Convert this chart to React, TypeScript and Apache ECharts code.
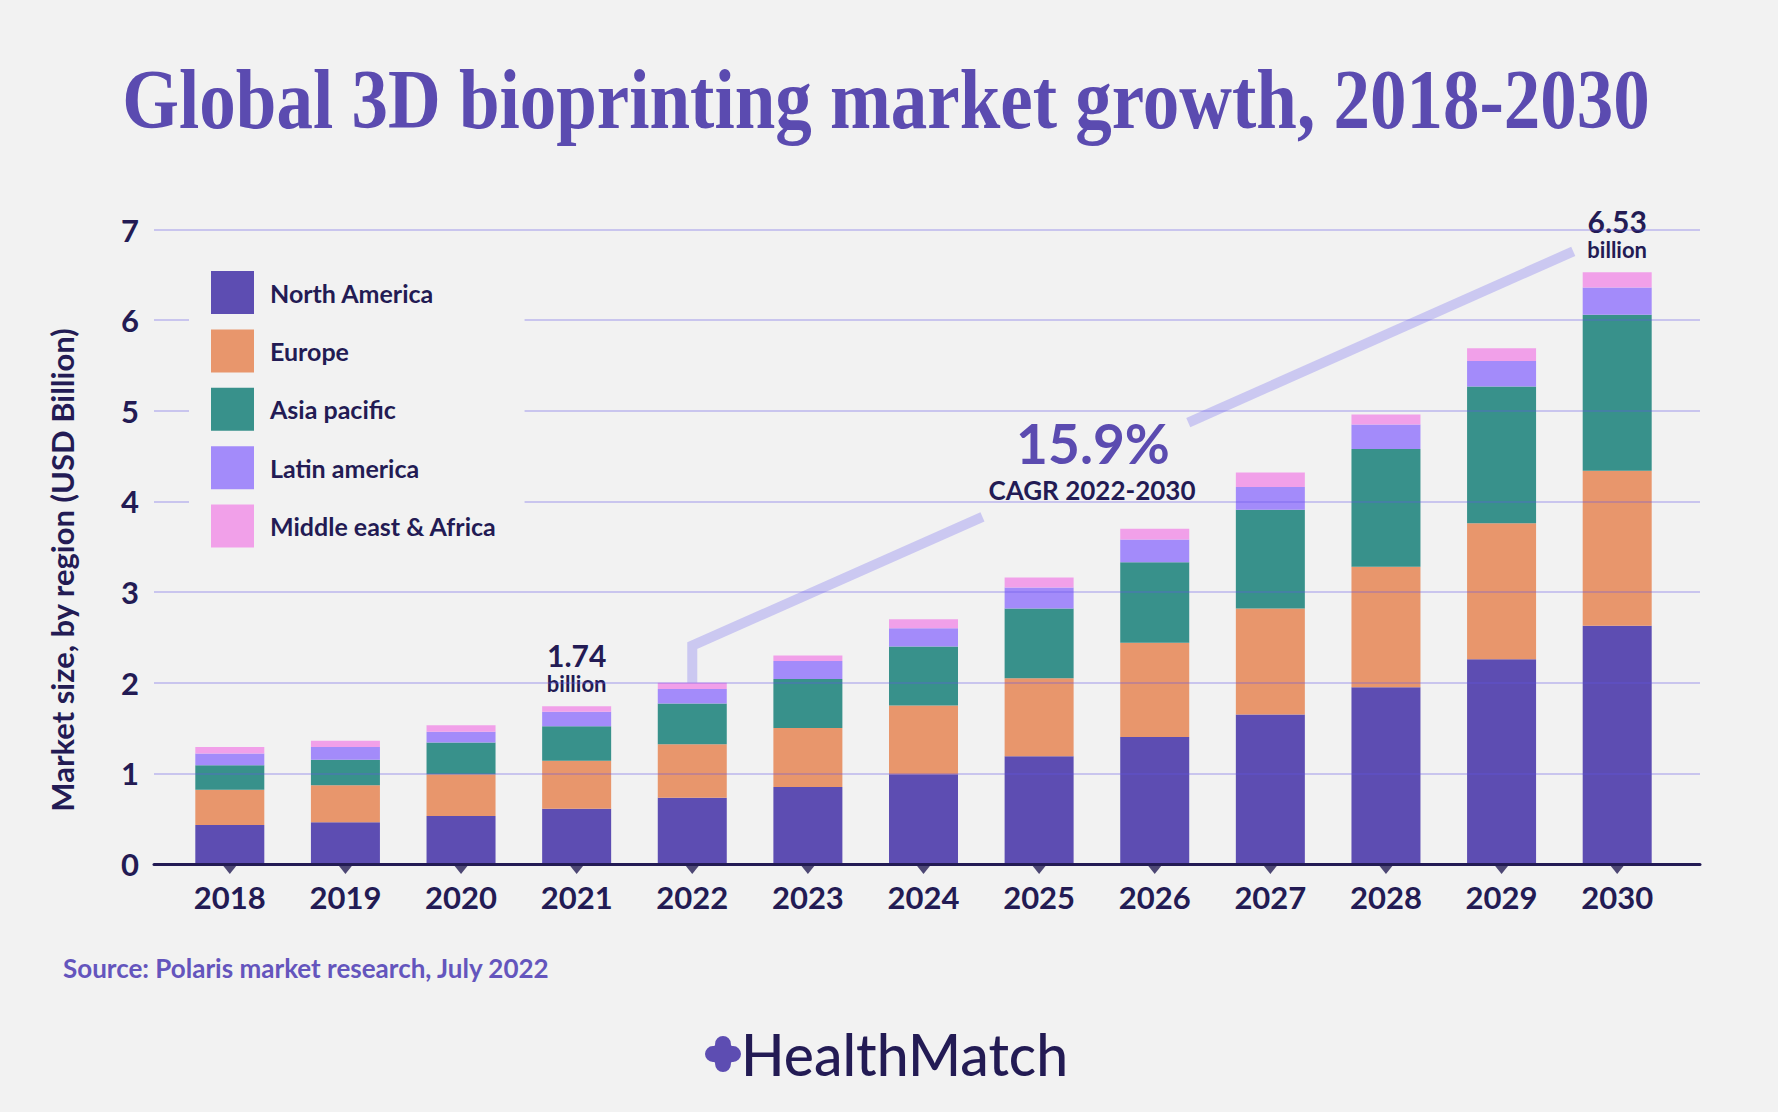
import React, { useEffect, useRef } from "react";
import * as echarts from "echarts";

const years = ["2018", "2019", "2020", "2021", "2022", "2023", "2024", "2025", "2026", "2027", "2028", "2029", "2030"];
const northAmerica = [0.43, 0.46, 0.53, 0.61, 0.73, 0.85, 0.99, 1.19, 1.4, 1.65, 1.95, 2.26, 2.63];
const europe = [0.39, 0.41, 0.46, 0.53, 0.59, 0.65, 0.76, 0.86, 1.04, 1.17, 1.33, 1.5, 1.71];
const asiaPacific = [0.27, 0.28, 0.35, 0.38, 0.45, 0.54, 0.65, 0.77, 0.89, 1.09, 1.3, 1.51, 1.72];
const latinAmerica = [0.13, 0.14, 0.12, 0.16, 0.16, 0.2, 0.2, 0.23, 0.25, 0.25, 0.27, 0.28, 0.3];
const middleEastAfrica = [0.07, 0.07, 0.07, 0.06, 0.07, 0.06, 0.1, 0.11, 0.12, 0.16, 0.11, 0.14, 0.17];

const seriesNames = ["North America", "Europe", "Asia pacific", "Latin america", "Middle east & Africa"];
const seriesColors = ["#5d4db2", "#e8966c", "#38918b", "#a38bfa", "#f1a0e9"];

const annotatedYears = ["2021", "2030"];
const annotatedTotals = ["1.74", "6.53"];

const yTicks = [0, 1, 2, 3, 4, 5, 6, 7];

// CAGR trend guide (category index, value)
const cagrLineA = [[4, 2.0], [4, 2.41], [6.51, 3.83]];
const cagrLineB = [[8.29, 4.87], [11.62, 6.76]];
const cagrValue = "15.9%";
const cagrLabel = "CAGR 2022-2030";

const NAVY = "#231b54";
const PURPLE = "#5b4bb0";

echarts.graphic.registerShape(
  "hmLogo",
  echarts.graphic.extendPath(
    "M28,22 A22,22 0 0 1 72,22 L72,24 Q72,28 76,28 L78,28 A22,22 0 0 1 78,72 L76,72 Q72,72 72,76 L72,78 A22,22 0 0 1 28,78 L28,76 Q28,72 24,72 L22,72 A22,22 0 0 1 22,28 L24,28 Q28,28 28,24 Z",
    {}
  )
);

export default function App() {
  const ref = useRef<HTMLDivElement>(null);
  useEffect(() => {
    if (!ref.current) return;
    const chart = echarts.init(ref.current, undefined, { renderer: "svg" });
    const values = [northAmerica, europe, asiaPacific, latinAmerica, middleEastAfrica];
    const barSeries = values.map((arr, k) => ({
      name: seriesNames[k],
      type: "bar",
      stack: "total",
      xAxisIndex: 1,
      yAxisIndex: 1,
      barWidth: 69,
      itemStyle: { color: seriesColors[k] },
      z: 2,
      data: arr,
      label:
        k === 4
          ? {
              show: true,
              position: "top",
              distance: 10,
              formatter: (p: any) => {
                const idx = annotatedYears.indexOf(p.name);
                return idx >= 0 ? `{v|${annotatedTotals[idx]}}\n{b|billion}` : "";
              },
              rich: {
                v: { fontFamily: "Lato", fontWeight: "bold", fontSize: 30, lineHeight: 30, color: NAVY, align: "center" },
                b: { fontFamily: "Lato", fontWeight: "bold", fontSize: 22, lineHeight: 26, color: NAVY, align: "center" },
              },
            }
          : { show: false },
    }));

    const option: any = {
      animation: false,
      backgroundColor: "#f2f2f2",
      textStyle: { fontFamily: "Lato" },
      grid: [
        { left: 154, right: 78, top: 229.6, bottom: 248 },
        { left: 172, right: 103, top: 229.6, bottom: 248 },
      ],
      xAxis: [
        {
          type: "value",
          gridIndex: 0,
          min: 0,
          max: 1,
          z: 12,
          axisLine: { show: true, lineStyle: { color: NAVY, width: 3 } },
          axisTick: { show: false },
          axisLabel: { show: false },
          splitLine: { show: false },
        },
        {
          type: "category",
          gridIndex: 1,
          data: years,
          axisLine: { show: false },
          axisTick: { show: false },
          axisLabel: { color: NAVY, fontFamily: "Lato", fontWeight: "bold", fontSize: 31, margin: 17 },
        },
        {
          type: "value",
          gridIndex: 1,
          min: -0.5,
          max: 12.5,
          show: false,
        },
      ],
      yAxis: [
        {
          type: "value",
          gridIndex: 0,
          min: yTicks[0],
          max: yTicks[yTicks.length - 1],
          interval: 1,
          z: 10,
          axisLine: { show: false },
          axisTick: { show: false },
          axisLabel: { color: NAVY, fontFamily: "Lato", fontWeight: "bold", fontSize: 31, margin: 15 },
          splitLine: { show: true, lineStyle: { color: "rgba(100,85,230,0.38)", width: 1.5 } },
        },
        {
          type: "value",
          gridIndex: 1,
          min: 0,
          max: 7,
          show: false,
        },
      ],
      legend: {
        orient: "vertical",
        left: 189,
        top: 259,
        padding: [12, 28, 12, 22],
        backgroundColor: "#f2f2f2",
        z: 20,
        icon: "rect",
        itemWidth: 43,
        itemHeight: 43,
        itemGap: 15.4,
        data: seriesNames,
        textStyle: { color: NAVY, fontFamily: "Lato", fontWeight: "bold", fontSize: 25, padding: [0, 0, 0, 11] },
      },
      series: [
        {
          type: "line",
          xAxisIndex: 2,
          yAxisIndex: 1,
          data: cagrLineA,
          symbol: "none",
          z: 1,
          lineStyle: { color: "#cbc8f1", width: 10, cap: "butt", join: "miter" },
          silent: true,
        },
        {
          type: "line",
          xAxisIndex: 2,
          yAxisIndex: 1,
          data: cagrLineB,
          symbol: "none",
          z: 1,
          lineStyle: { color: "#cbc8f1", width: 10, cap: "butt" },
          silent: true,
        },
        ...barSeries,
        {
          type: "scatter",
          xAxisIndex: 1,
          yAxisIndex: 1,
          data: years.map(() => 0),
          symbol: "triangle",
          symbolRotate: 180,
          symbolSize: [16, 10],
          symbolOffset: [0, 5],
          clip: false,
          itemStyle: { color: NAVY },
          z: 13,
          silent: true,
        },
      ],
      graphic: [
        {
          type: "text",
          x: 886,
          y: 100,
          scaleY: 1.15,
          z: 30,
          style: {
            text: "Global 3D bioprinting market growth, 2018-2030",
            fill: PURPLE,
            font: "bold 73px 'Liberation Serif', serif",
            align: "center",
            verticalAlign: "middle",
          },
        },
        {
          type: "text",
          x: 62,
          y: 570,
          rotation: Math.PI / 2,
          z: 30,
          style: {
            text: "Market size, by region (USD Billion)",
            fill: NAVY,
            font: "bold 31px Lato",
            align: "center",
            verticalAlign: "middle",
          },
        },
        {
          type: "text",
          x: 1093,
          y: 443,
          z: 5,
          style: { text: cagrValue, fill: PURPLE, font: "bold 55px Lato", align: "center", verticalAlign: "middle" },
        },
        {
          type: "text",
          x: 1092,
          y: 490,
          z: 5,
          style: { text: cagrLabel, fill: NAVY, font: "bold 26px Lato", align: "center", verticalAlign: "middle" },
        },
        {
          type: "text",
          x: 63,
          y: 968,
          z: 30,
          style: {
            text: "Source: Polaris market research, July 2022",
            fill: "#6455bd",
            font: "bold 26px Lato",
            align: "left",
            verticalAlign: "middle",
          },
        },
        {
          type: "hmLogo",
          x: 705,
          y: 1036,
          scaleX: 0.36,
          scaleY: 0.36,
          z: 30,
          style: { fill: "#5d4db2" },
        },
        {
          type: "text",
          x: 741,
          y: 1054,
          z: 30,
          style: { text: "HealthMatch", fill: NAVY, font: "500 57px Lato", align: "left", verticalAlign: "middle" },
        },
      ],
    };
    chart.setOption(option);
    return () => chart.dispose();
  }, []);
  return (
    <div
      ref={ref}
      style={{ position: "fixed", left: 0, top: 0, width: 1778, height: 1112, background: "#f2f2f2" }}
    />
  );
}
